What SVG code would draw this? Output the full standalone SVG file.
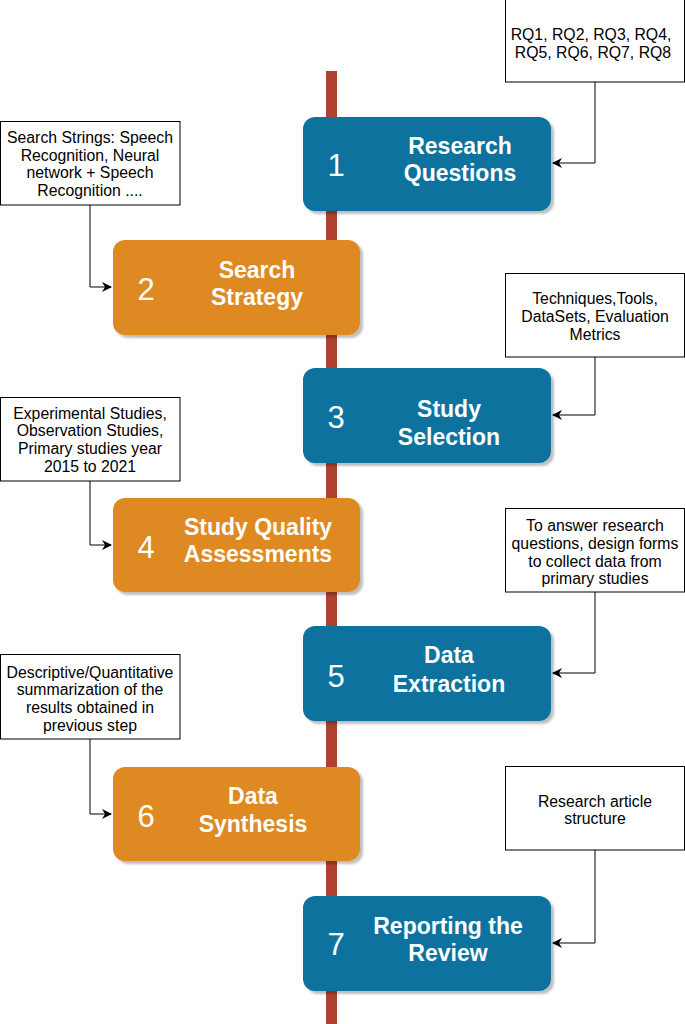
<svg xmlns="http://www.w3.org/2000/svg" width="685" height="1024" viewBox="0 0 685 1024">
<style>
.blue{fill:#10739E}
.orange{fill:#DE8923}
.num{font-family:"Liberation Sans",Arial,sans-serif;font-size:31px;fill:#fff;text-anchor:middle}
.title{font-family:"Liberation Sans",Arial,sans-serif;font-size:23px;font-weight:bold;fill:#fff;text-anchor:middle}
.note{fill:#fff;stroke:#000;stroke-width:1}
.nt{font-family:"Liberation Sans",Arial,sans-serif;font-size:15.8px;fill:#000;text-anchor:middle}
.conn{fill:none;stroke:#000;stroke-width:1}
</style>
<defs>
<filter id="sh" x="-10%" y="-10%" width="130%" height="140%">
<feDropShadow dx="3" dy="3" stdDeviation="1.2" flood-color="#000" flood-opacity="0.25"/>
</filter>
<marker id="arr" viewBox="0 0 10 10" refX="9" refY="5" markerWidth="10" markerHeight="10" markerUnits="userSpaceOnUse" orient="auto">
<path d="M0,0 L10,5 L0,10 L3,5 Z" fill="#000"/>
</marker>
</defs>
<rect id="timeline" x="326" y="71" width="11" height="953" fill="#AE4132"/>

<g id="connectors">
<path class="conn" d="M595,82 V163 H553" marker-end="url(#arr)"/>
<path class="conn" d="M90,205 V287 H111" marker-end="url(#arr)"/>
<path class="conn" d="M595,357 V415 H553" marker-end="url(#arr)"/>
<path class="conn" d="M90,481 V545 H111" marker-end="url(#arr)"/>
<path class="conn" d="M595,592 V673 H553" marker-end="url(#arr)"/>
<path class="conn" d="M90,739 V814 H111" marker-end="url(#arr)"/>
<path class="conn" d="M595,850 V943 H553" marker-end="url(#arr)"/>
</g>

<g id="step1">
<rect class="blue" x="303" y="117" width="248" height="94" rx="12" filter="url(#sh)"/>
<text class="num" x="336" y="176">1</text>
<text class="title" x="460" y="154">Research</text>
<text class="title" x="460" y="181">Questions</text>
</g>
<g id="step2">
<rect class="orange" x="113" y="240" width="247" height="95" rx="12" filter="url(#sh)"/>
<text class="num" x="146" y="300">2</text>
<text class="title" x="257" y="278">Search</text>
<text class="title" x="257" y="305">Strategy</text>
</g>
<g id="step3">
<rect class="blue" x="303" y="368" width="248" height="95" rx="12" filter="url(#sh)"/>
<text class="num" x="336" y="428">3</text>
<text class="title" x="449" y="417">Study</text>
<text class="title" x="449" y="445">Selection</text>
</g>
<g id="step4">
<rect class="orange" x="113" y="498" width="247" height="94" rx="12" filter="url(#sh)"/>
<text class="num" x="146" y="558">4</text>
<text class="title" x="258" y="535">Study Quality</text>
<text class="title" x="258" y="562">Assessments</text>
</g>
<g id="step5">
<rect class="blue" x="303" y="626" width="248" height="95" rx="12" filter="url(#sh)"/>
<text class="num" x="336" y="687">5</text>
<text class="title" x="449" y="663">Data</text>
<text class="title" x="449" y="692">Extraction</text>
</g>
<g id="step6">
<rect class="orange" x="113" y="767" width="247" height="94" rx="12" filter="url(#sh)"/>
<text class="num" x="146" y="827">6</text>
<text class="title" x="253" y="804">Data</text>
<text class="title" x="253" y="832">Synthesis</text>
</g>
<g id="step7">
<rect class="blue" x="303" y="896" width="248" height="95" rx="12" filter="url(#sh)"/>
<text class="num" x="336" y="955">7</text>
<text class="title" x="448" y="934">Reporting the</text>
<text class="title" x="448" y="961">Review</text>
</g>

<g id="note1">
<rect class="note" x="505.5" y="-0.5" width="179" height="82.5"/>
<text class="nt" x="591" y="40">RQ1, RQ2, RQ3, RQ4,</text>
<text class="nt" x="593" y="58">RQ5, RQ6, RQ7, RQ8</text>
</g>
<g id="note2">
<rect class="note" x="0.5" y="121.5" width="179.5" height="83.5"/>
<text class="nt" x="90" y="142.5">Search Strings: Speech</text>
<text class="nt" x="90" y="160.5">Recognition, Neural</text>
<text class="nt" x="90" y="178">network + Speech</text>
<text class="nt" x="90" y="196">Recognition ....</text>
</g>
<g id="note3">
<rect class="note" x="505.5" y="273.5" width="179" height="83.5"/>
<text class="nt" x="595" y="304">Techniques,Tools,</text>
<text class="nt" x="595" y="322">DataSets, Evaluation</text>
<text class="nt" x="595" y="339.5">Metrics</text>
</g>
<g id="note4">
<rect class="note" x="0.5" y="397.5" width="179.5" height="83.5"/>
<text class="nt" x="90" y="418.5">Experimental Studies,</text>
<text class="nt" x="90" y="436">Observation Studies,</text>
<text class="nt" x="90" y="454">Primary studies year</text>
<text class="nt" x="90" y="471.5">2015 to 2021</text>
</g>
<g id="note5">
<rect class="note" x="505.5" y="508.5" width="179" height="83.5"/>
<text class="nt" x="595" y="531">To answer research</text>
<text class="nt" x="595" y="549">questions, design forms</text>
<text class="nt" x="595" y="566.5">to collect data from</text>
<text class="nt" x="595" y="584">primary studies</text>
</g>
<g id="note6">
<rect class="note" x="0.5" y="654.5" width="179.5" height="84.5"/>
<text class="nt" x="90" y="677.5">Descriptive/Quantitative</text>
<text class="nt" x="90" y="695">summarization of the</text>
<text class="nt" x="90" y="713">results obtained in</text>
<text class="nt" x="90" y="730.5">previous step</text>
</g>
<g id="note7">
<rect class="note" x="505.5" y="766.5" width="179" height="83.5"/>
<text class="nt" x="595" y="806.5">Research article</text>
<text class="nt" x="595" y="824">structure</text>
</g>
</svg>
